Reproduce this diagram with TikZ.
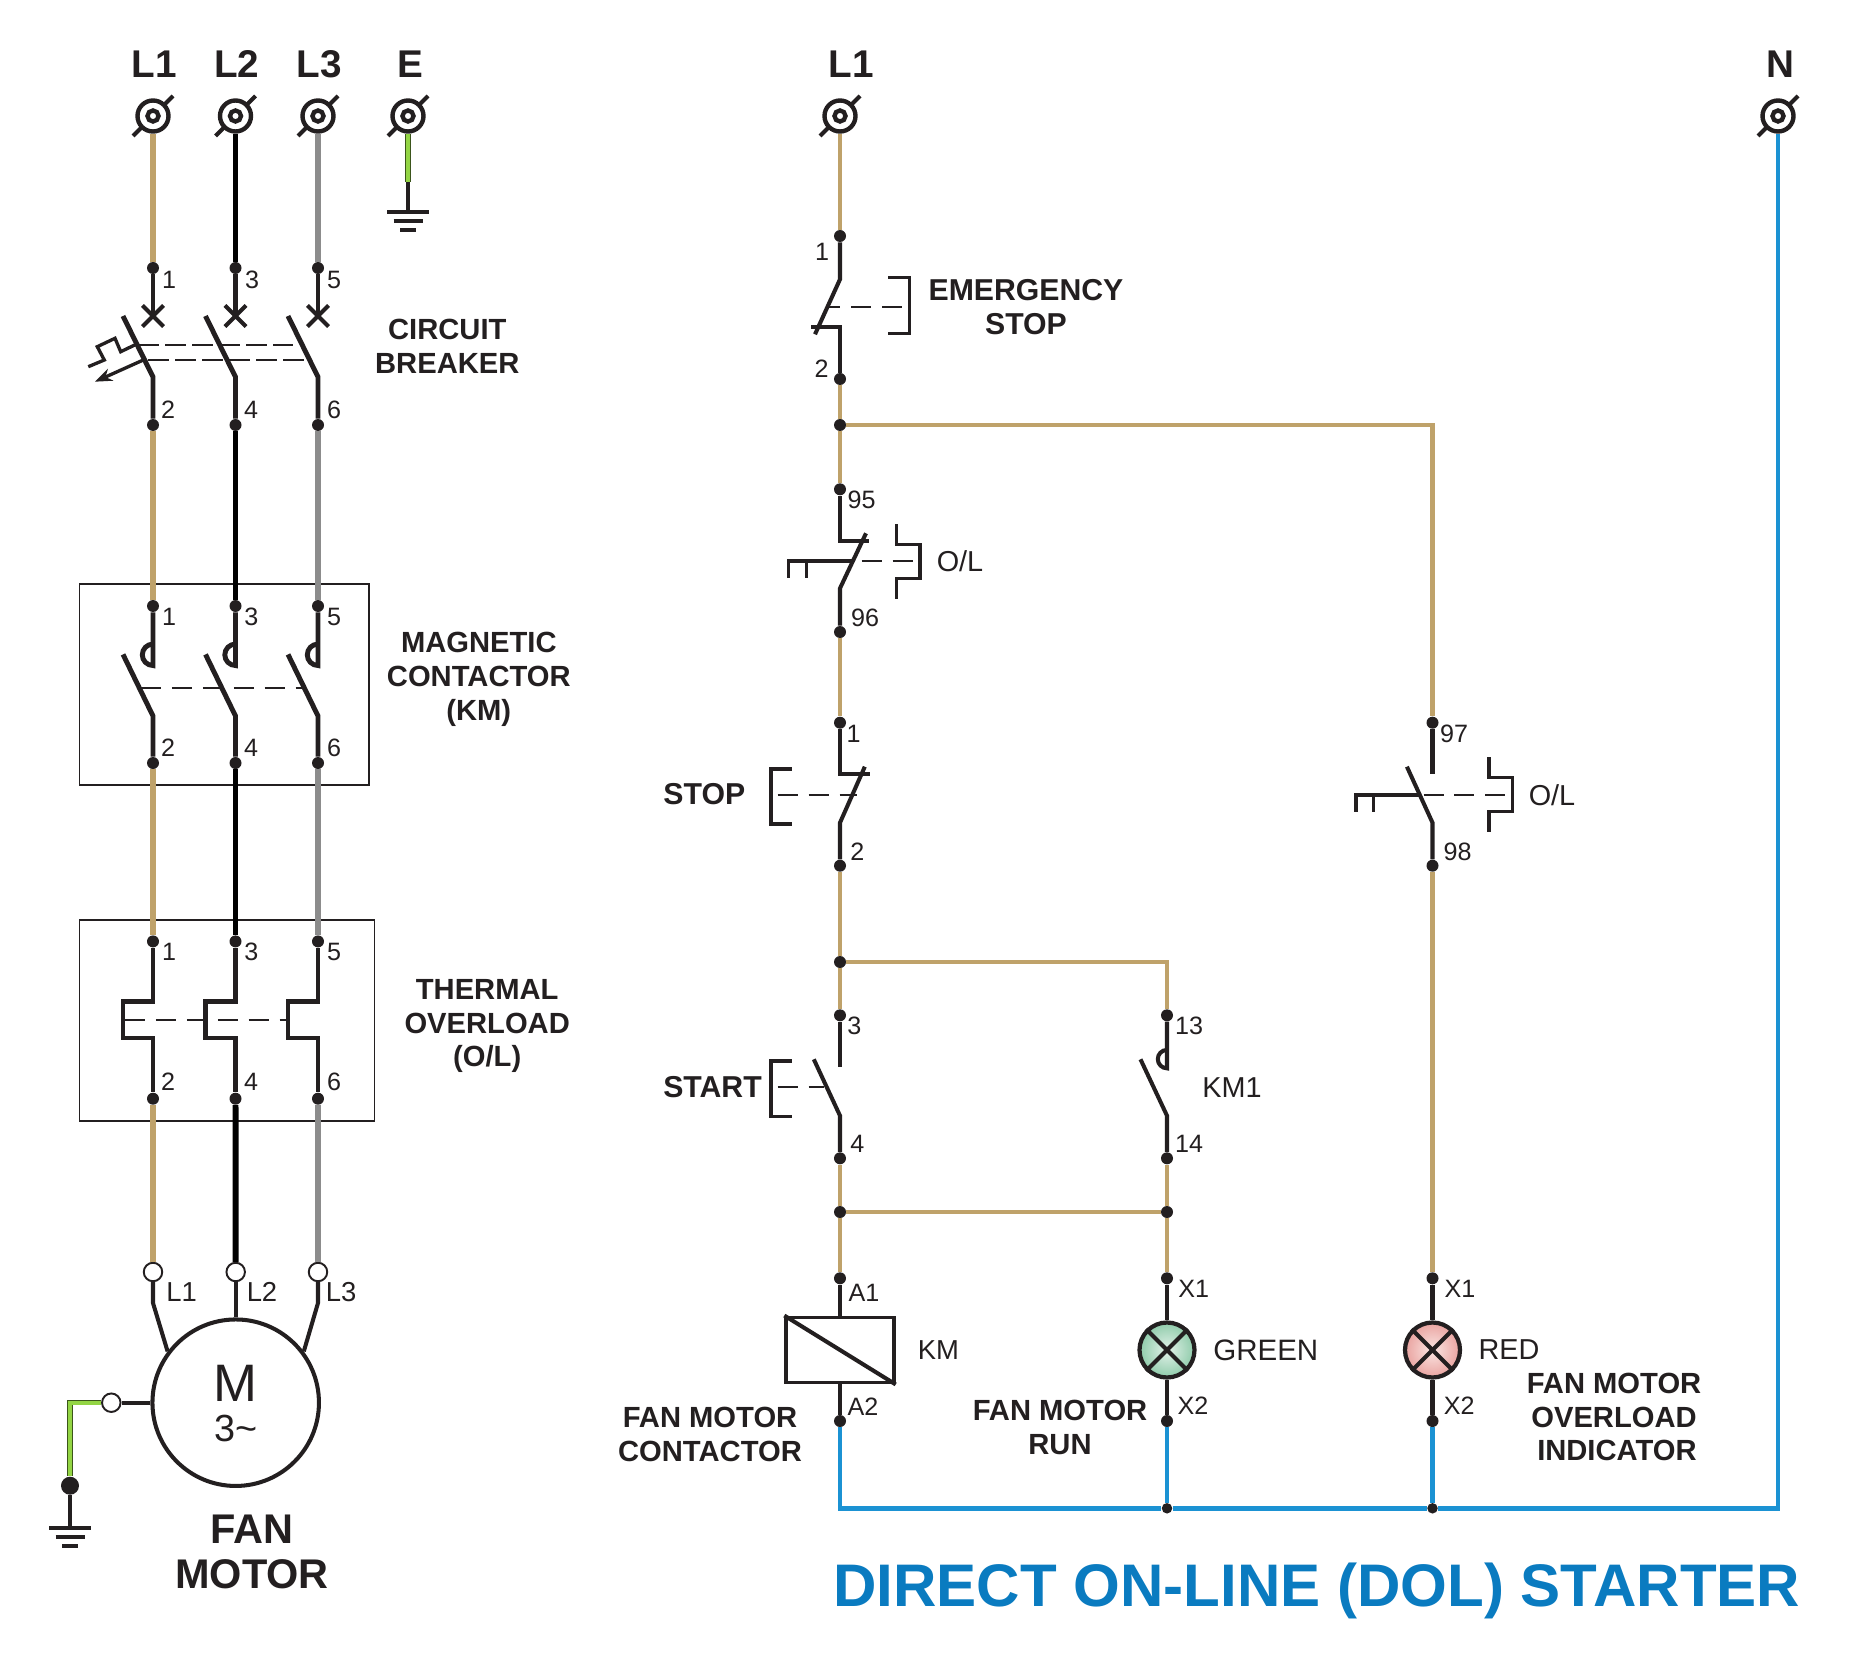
\documentclass[tikz,border=0pt]{standalone}
\usepackage{fontspec}
\setmainfont{Liberation Sans}
\usepackage{xcolor}
\usetikzlibrary{shapes,arrows.meta,positioning,calc}

\definecolor{ink}{HTML}{231F20}
\definecolor{tanline}{HTML}{BFA26A}
\definecolor{greyline}{HTML}{8C8C8C}
\definecolor{blueline}{HTML}{1B92D3}
\definecolor{earthgreen}{HTML}{93D544}
\definecolor{titleblue}{HTML}{0A7BC0}
\definecolor{lampgreenin}{HTML}{E3F2EA}
\definecolor{lampgreenout}{HTML}{8FCBAA}
\definecolor{lampredin}{HTML}{FBE6E3}
\definecolor{lampredout}{HTML}{E9A3A0}

\begin{document}
\begin{tikzpicture}[
      x=0.2mm,y=-0.2mm,
      dot/.style={circle,fill=ink,inner sep=0pt,minimum size=2.4mm},
      opendot/.style={circle,draw=ink,fill=white,line width=1.1pt,inner sep=0pt,minimum size=3.7mm},
      xmark/.style={cross out,draw=ink,line width=2.3pt,inner sep=0pt,minimum size=3.4mm},
      ringouter/.style={circle,draw=ink,fill=white,line width=2.5pt,inner sep=0pt,minimum size=6.2mm},
      ringinner/.style={circle,draw=ink,fill=white,line width=2.5pt,inner sep=0pt,minimum size=2.2mm},
      tanwire/.style={draw=tanline,line width=3.4pt},
      blackwire/.style={draw=black,line width=3.4pt},
      greywire/.style={draw=greyline,line width=3.4pt},
      tanctl/.style={draw=tanline,line width=2.6pt},
      bluectl/.style={draw=blueline,line width=2.6pt},
      greenwire/.style={draw=black!60!earthgreen,double=earthgreen,line width=0.4pt,double distance=2.2pt},
      pole/.style={draw=ink,line width=2.8pt},
      ctl/.style={draw=ink,line width=2.3pt},
      link/.style={draw=ink,line width=1.1pt,dash pattern=on 11.4pt off 6.2pt},
      cblink/.style={draw=ink,line width=1.1pt,dash pattern=on 11.8pt off 3.6pt},
      thin/.style={draw=ink,line width=2pt},
      unitbox/.style={rectangle,draw=ink,line width=1pt,inner sep=0pt},
      coilbox/.style={rectangle,draw=ink,line width=2.2pt,inner sep=0pt,minimum width=21.5mm,minimum height=13mm},
      lamp/.style={circle,draw=ink,line width=2.4pt,inner sep=0pt,minimum size=11mm},
      motorbody/.style={circle,draw=ink,line width=2.3pt,inner sep=0pt,minimum size=33.3mm},
      numtext/.style={font=\fontsize{14.3pt}{16pt}\selectfont,text=ink,inner sep=0pt},
      devtext/.style={font=\fontsize{16.4pt}{19pt}\selectfont,text=ink,inner sep=0pt},
      motortext/.style={font=\fontsize{15.6pt}{18pt}\selectfont,text=ink,inner sep=0pt},
      captext/.style={font=\bfseries\fontsize{16.6pt}{19.3pt}\selectfont,text=ink,align=center,inner sep=0pt},
      capbig/.style={font=\bfseries\fontsize{17.2pt}{19.6pt}\selectfont,text=ink,align=center,inner sep=0pt},
      headtext/.style={font=\bfseries\fontsize{22pt}{26pt}\selectfont,text=ink,inner sep=0pt},
      terminal/.pic={
        \draw[pole,line width=2.4pt] (-20,20) -- (20,-20);
        \node[ringouter] (-c) at (0,0) {};
        \node[ringinner] (-i) at (0,0) {};
      },
      earth/.pic={
        \coordinate (-c) at (0,0);
        \draw[ctl] (-21,0) -- (21,0);
        \draw[ctl] (-14.5,9) -- (14.5,9);
        \draw[ctl] (-8,18) -- (8,18);
      }
    ]
    \useasboundingbox (0,0) rectangle (1861,1671);

    % Boxes round the three pole units
    \node[unitbox,minimum width=57.9mm,minimum height=40.2mm] (kmbox) at (224.3,684.5) {};
    \node[unitbox,minimum width=59mm,minimum height=40.1mm] (olbox) at (227,1020.5) {};

    % Supply terminals
    \pic (tA) at (153,116) {terminal};
    \pic (tB) at (235.5,116) {terminal};
    \pic (tC) at (318,116) {terminal};
    \pic (tE) at (408,116) {terminal};
    \pic (tL) at (840,116) {terminal};
    \pic (tN) at (1778,116) {terminal};

    \node[headtext] (hA) at (154,64) {L1};
    \node[headtext] (hB) at (236.7,64) {L2};
    \node[headtext] (hC) at (319,64) {L3};
    \node[headtext] (hE) at (410,64) {E};
    \node[headtext] (hL) at (851,64) {L1};
    \node[headtext] (hN) at (1780.5,64) {N};

    % Earth of the supply
    \coordinate (gE) at (408,182);
    \pic (earthE) at (408,212) {earth};
    \draw[greenwire] (tE-c) -- (gE);
    \draw[ctl] (gE) -- (earthE-c);

    % Circuit breaker
    \node[dot] (cbA1) at (153,268) {};
    \node[dot] (cbB1) at (235.5,268) {};
    \node[dot] (cbC1) at (318,268) {};
    \node[dot] (cbA2) at (153,425) {};
    \node[dot] (cbB2) at (235.5,425) {};
    \node[dot] (cbC2) at (318,425) {};
    \node[xmark] (cbAx) at (153,316) {};
    \node[xmark] (cbBx) at (235.5,316) {};
    \node[xmark] (cbCx) at (318,316) {};
    \draw[pole] (cbA1) -- (cbAx.center);
    \draw[pole] (cbB1) -- (cbBx.center);
    \draw[pole] (cbC1) -- (cbCx.center);
    \draw[pole] (cbA2) -- ++(0,-48) -- ++(-30,-61);
    \draw[pole] (cbB2) -- ++(0,-48) -- ++(-30,-61);
    \draw[pole] (cbC2) -- ++(0,-48) -- ++(-30,-61);
    \draw[cblink] ($(cbA2)+(-15,-80.3)$) -- ++(155,0);
    \draw[cblink] ($(cbA2)+(-5,-65)$) -- ++(159,0);
    \draw[thin,line width=1.9pt] ($(cbA2)+(-64.7,-58.3)$) -- ++(16,-6.7) -- ++(-7,-13.3) -- ++(17.7,-8.4) -- ++(5.7,13.4) -- ++(17.6,-8.4);
    \draw[thin,line width=1.9pt,-{Stealth[length=3.4mm,width=2.6mm]}] ($(cbA2)+(-9.7,-65)$) -- ++(-48.3,21.7);

    \node[numtext] (nA1) at (169,280) {1};
    \node[numtext] (nB1) at (252,280) {3};
    \node[numtext] (nC1) at (334,280) {5};
    \node[numtext] (nA2) at (168,410) {2};
    \node[numtext] (nB2) at (251,410) {4};
    \node[numtext] (nC2) at (334,410) {6};
    \node[captext] (cbcap) at (447.3,346) {CIRCUIT\\BREAKER};

    % Magnetic contactor
    \node[dot] (kmA1) at (153,606) {};
    \node[dot] (kmB1) at (235.5,606) {};
    \node[dot] (kmC1) at (318,606) {};
    \node[dot] (kmA2) at (153,763) {};
    \node[dot] (kmB2) at (235.5,763) {};
    \node[dot] (kmC2) at (318,763) {};
    \draw[pole] (kmA1) -- ++(0,59.5) arc[start angle=90,end angle=270,radius=10.7];
    \draw[pole] (kmB1) -- ++(0,59.5) arc[start angle=90,end angle=270,radius=10.7];
    \draw[pole] (kmC1) -- ++(0,59.5) arc[start angle=90,end angle=270,radius=10.7];
    \draw[pole] (kmA2) -- ++(0,-47) -- ++(-30,-61.6);
    \draw[pole] (kmB2) -- ++(0,-47) -- ++(-30,-61.6);
    \draw[pole] (kmC2) -- ++(0,-47) -- ++(-30,-61.6);
    \draw[link] ($(kmA2)+(-12,-75.4)$) -- ++(163,0);

    \node[numtext] (mA1) at (169,617) {1};
    \node[numtext] (mB1) at (251.4,617) {3};
    \node[numtext] (mC1) at (334,617) {5};
    \node[numtext] (mA2) at (168,748) {2};
    \node[numtext] (mB2) at (251,748) {4};
    \node[numtext] (mC2) at (334,748) {6};
    \node[captext] (kmcap) at (478.8,679.5) {MAGNETIC\\CONTACTOR\\(KM)};

    % Thermal overload
    \node[dot] (olA1) at (153,941.4) {};
    \node[dot] (olB1) at (235.5,941.4) {};
    \node[dot] (olC1) at (318,941.4) {};
    \node[dot] (olA2) at (153,1098.7) {};
    \node[dot] (olB2) at (235.5,1098.7) {};
    \node[dot] (olC2) at (318,1098.7) {};
    \draw[pole] (olA1) -- ++(0,60.3) -- ++(-30,0) -- ++(0,36.3) -- ++(30,0) -- (olA2);
    \draw[pole] (olB1) -- ++(0,60.3) -- ++(-30,0) -- ++(0,36.3) -- ++(30,0) -- (olB2);
    \draw[pole] (olC1) -- ++(0,60.3) -- ++(-30,0) -- ++(0,36.3) -- ++(30,0) -- (olC2);
    \draw[link] ($(olA1)+(-28,78.6)$) -- ++(162,0);

    \node[numtext] (oA1) at (169,952) {1};
    \node[numtext] (oB1) at (251.4,952) {3};
    \node[numtext] (oC1) at (334,952) {5};
    \node[numtext] (oA2) at (168,1082) {2};
    \node[numtext] (oB2) at (251,1082) {4};
    \node[numtext] (oC2) at (334,1082) {6};
    \node[captext] (olcap) at (487.2,1026) {THERMAL\\OVERLOAD\\(O/L)};

    % Fan motor
    \node[opendot] (mA) at (153,1272) {};
    \node[opendot] (mB) at (235.7,1272) {};
    \node[opendot] (mC) at (318,1272) {};
    \node[opendot] (mE) at (111.3,1402.7) {};
    \node[motorbody] (mot) at (235.7,1402.7) {};
    \draw[ctl] (mA) -- ++(0,31) -- (mot.143);
    \draw[ctl] (mB) -- (mot);
    \draw[ctl] (mC) -- ++(0,31) -- (mot.37);
    \draw[ctl] (mE) -- (mot);
    \node[dot,minimum size=3.6mm] (gM) at (70,1485.7) {};
    \pic (earthM) at (70,1528) {earth};
    \draw[greenwire] (mE) -| (gM);
    \draw[ctl] (gM) -- (earthM-c);

    \node[font=\fontsize{30pt}{34pt}\selectfont,text=ink,inner sep=0pt] (mletter) at (235,1383) {M};
    \node[font=\fontsize{21.5pt}{25pt}\selectfont,text=ink,inner sep=0pt] (mphase) at (235.7,1428) {3\textasciitilde};
    \node[motortext] (lA) at (181.7,1292) {L1};
    \node[motortext] (lB) at (262,1292) {L2};
    \node[motortext] (lC) at (341,1292) {L3};
    \node[captext,font=\bfseries\fontsize{23.6pt}{26pt}\selectfont] (fancap) at (252,1552) {FAN\\MOTOR};

    % Three phase wires
    \draw[tanwire] (tA-c) -- (cbA1);
    \draw[tanwire] (cbA2) -- (kmA1);
    \draw[tanwire] (kmA2) -- (olA1);
    \draw[tanwire] (olA2) -- (mA);
    \draw[blackwire] (tB-c) -- (cbB1);
    \draw[blackwire] (cbB2) -- (kmB1);
    \draw[blackwire] (kmB2) -- (olB1);
    \draw[blackwire] (olB2) -- (mB);
    \draw[greywire] (tC-c) -- (cbC1);
    \draw[greywire] (cbC2) -- (kmC1);
    \draw[greywire] (kmC2) -- (olC1);
    \draw[greywire] (olC2) -- (mC);

    % Emergency stop
    \node[dot] (es1) at (840,236) {};
    \node[dot] (es2) at (840,379) {};
    \node[dot] (jn1) at (840,425) {};
    \draw[ctl] (es1) -- ++(0,43.3) -- ++(-25,55);
    \draw[ctl] (es2) -- ++(0,-51.7) -- ++(-29.3,0);
    \draw[link,dash phase=4.5pt] ($(es1)+(-11.7,70.7)$) -- ++(75,0);
    \draw[thin] ($(es1)+(48.3,41.7)$) -- ++(21,0) -- ++(0,55.6) -- ++(-21,0);
    \node[numtext] (es1n) at (822,252) {1};
    \node[numtext] (es2n) at (821.7,368.5) {2};
    \node[capbig] (escap) at (1026,307) {EMERGENCY\\STOP};

    % Overload contact in the control line
    \node[dot] (ov1) at (840,489.3) {};
    \node[dot] (ov2) at (840,632) {};
    \draw[ctl] (ov1) -- ++(0,51.7) -- ++(29.3,0);
    \draw[ctl] (ov2) -- ++(0,-43.7) -- ++(26,-55);
    \draw[thin] ($(ov1)+(11.7,71.7)$) -- ++(-63.4,0) -- ++(0,17.3);
    \draw[thin] ($(ov1)+(-33.3,71.7)$) -- ++(0,17.3);
    \draw[link] ($(ov1)+(21.7,71.7)$) -- ++(51.6,0);
    \draw[thin] ($(ov1)+(56.7,34.7)$) -- ++(0,20.3) -- ++(23.3,0) -- ++(0,34) -- ++(-23.3,0) -- ++(0,20.7);
    \node[numtext] (ov1n) at (861.7,500) {95};
    \node[numtext] (ov2n) at (865,618) {96};
    \node[devtext] (ovtag) at (960,561) {O/L};

    % Stop button
    \node[dot] (sp1) at (840,722.7) {};
    \node[dot] (sp2) at (840,865.7) {};
    \node[dot] (jn2) at (840,962) {};
    \draw[ctl] (sp1) -- ++(0,51.3) -- ++(29.7,0);
    \draw[ctl] (sp2) -- ++(0,-43) -- ++(24.8,-56);
    \draw[link] ($(sp1)+(-62.3,72.3)$) -- ++(79.6,0);
    \draw[thin] ($(sp1)+(-48.2,46.3)$) -- ++(-20.8,0) -- ++(0,55) -- ++(20.8,0);
    \node[numtext] (sp1n) at (853.6,734) {1};
    \node[numtext] (sp2n) at (857.3,852) {2};
    \node[capbig] (spcap) at (704.3,794.3) {STOP};

    % Start button and its hold-in contact
    \node[dot] (st1) at (840,1015.3) {};
    \node[dot] (st2) at (840,1158.3) {};
    \node[dot] (jn3) at (840,1212) {};
    \draw[ctl] (st1) -- ++(0,51.4);
    \draw[ctl] (st2) -- ++(0,-42.6) -- ++(-26.2,-56.4);
    \draw[link] ($(st1)+(-62.3,72)$) -- ++(46.3,0);
    \draw[thin] ($(st1)+(-48.2,45.7)$) -- ++(-20.8,0) -- ++(0,55.7) -- ++(20.8,0);
    \node[numtext] (st1n) at (854.4,1026) {3};
    \node[numtext] (st2n) at (857.3,1144) {4};
    \node[capbig] (stcap) at (712.5,1086.7) {START};

    \node[dot] (ho1) at (1167,1015.3) {};
    \node[dot] (ho2) at (1167,1158.3) {};
    \node[dot] (jn4) at (1167,1212) {};
    \draw[ctl] (ho1) -- ++(0,53) arc[start angle=90,end angle=270,radius=9.2];
    \draw[ctl] (ho2) -- ++(0,-42.6) -- ++(-26.5,-56.4);
    \node[numtext] (ho1n) at (1189,1026) {13};
    \node[numtext] (ho2n) at (1189,1144) {14};
    \node[devtext] (hotag) at (1232,1087.3) {KM1};

    % Overload contact in the indicator branch
    \node[dot] (ovr1) at (1432.5,722.7) {};
    \node[dot] (ovr2) at (1432.5,865.7) {};
    \draw[ctl] (ovr1) -- ++(0,51.3);
    \draw[ctl] (ovr2) -- ++(0,-43) -- ++(-25.6,-56);
    \draw[thin] ($(ovr1)+(-13.2,72.3)$) -- ++(-63.3,0) -- ++(0,16.7);
    \draw[thin] ($(ovr1)+(-59,72.3)$) -- ++(0,16.7);
    \draw[link] ($(ovr1)+(-9,72.3)$) -- ++(82.4,0);
    \draw[thin] ($(ovr1)+(56.5,34.6)$) -- ++(0,20.4) -- ++(23.3,0) -- ++(0,34) -- ++(-23.3,0) -- ++(0,20.6);
    \node[numtext] (ovr1n) at (1454,733.5) {97};
    \node[numtext] (ovr2n) at (1457.7,852) {98};
    \node[devtext] (ovrtag) at (1552,795) {O/L};

    % Contactor coil and the two lamps
    \node[dot] (coil1) at (840,1278.3) {};
    \node[dot] (coil2) at (840,1421) {};
    \node[coilbox] (coil) at (840,1350) {};
    \draw[ctl] (coil.north west) -- (coil.south east);
    \draw[ctl] (coil1) -- (coil);
    \draw[ctl] (coil2) -- (coil);
    \node[numtext] (coil1n) at (864,1293.3) {A1};
    \node[numtext] (coil2n) at (863,1406.7) {A2};
    \node[motortext] (coiltag) at (938.4,1350) {KM};
    \node[captext] (coilcap) at (710,1434) {FAN MOTOR\\CONTACTOR};

    \node[dot] (gr1) at (1167,1278.3) {};
    \node[dot] (gr2) at (1167,1421) {};
    \node[lamp,inner color=lampgreenin,outer color=lampgreenout] (grlamp) at (1167,1350) {};
    \draw[ctl] (grlamp.north west) -- (grlamp.south east);
    \draw[ctl] (grlamp.north east) -- (grlamp.south west);
    \draw[ctl] (gr1) -- (grlamp);
    \draw[ctl] (gr2) -- (grlamp);
    \node[numtext] (gr1n) at (1193.7,1289.3) {X1};
    \node[numtext] (gr2n) at (1193,1406) {X2};
    \node[devtext,font=\fontsize{16.8pt}{19pt}\selectfont] (grtag) at (1265.8,1350) {GREEN};
    \node[captext] (grcap) at (1060,1427) {FAN MOTOR\\RUN};

    \node[dot] (rd1) at (1432.5,1278.3) {};
    \node[dot] (rd2) at (1432.5,1421) {};
    \node[lamp,inner color=lampredin,outer color=lampredout] (rdlamp) at (1432.5,1350) {};
    \draw[ctl] (rdlamp.north west) -- (rdlamp.south east);
    \draw[ctl] (rdlamp.north east) -- (rdlamp.south west);
    \draw[ctl] (rd1) -- (rdlamp);
    \draw[ctl] (rd2) -- (rdlamp);
    \node[numtext] (rd1n) at (1460,1289.3) {X1};
    \node[numtext] (rd2n) at (1459.3,1406) {X2};
    \node[devtext] (rdtag) at (1509,1350) {RED};
    \node[captext] (rdcap) at (1614,1417) {FAN MOTOR\\OVERLOAD\\\hspace*{0.2em}INDICATOR};

    % Control wiring
    \node[dot,minimum size=2.1mm] (bus1) at (1167,1508.3) {};
    \node[dot,minimum size=2.1mm] (bus2) at (1432.5,1508.3) {};
    \draw[tanctl] (tL-c) -- (es1);
    \draw[tanctl] (es2) -- (jn1);
    \draw[tanctl] (jn1) -- (ov1);
    \draw[tanctl] (ov2) -- (sp1);
    \draw[tanctl] (sp2) -- (jn2);
    \draw[tanctl] (jn2) -- (st1);
    \draw[tanctl] (st2) -- (jn3);
    \draw[tanctl] (jn3) -- (coil1);
    \draw[tanctl] (jn1) -| (ovr1);
    \draw[tanctl] (ovr2) -- (rd1);
    \draw[tanctl] (jn2) -| (ho1);
    \draw[tanctl] (ho2) -- (jn4);
    \draw[tanctl] (jn3) -- (jn4);
    \draw[tanctl] (jn4) -- (gr1);
    \draw[bluectl] (coil2) |- (bus1);
    \draw[bluectl] (gr2) -- (bus1);
    \draw[bluectl] (rd2) -- (bus2);
    \draw[bluectl] (bus1) -- (bus2);
    \draw[bluectl] (bus2) -| (tN-c);

    \node[font=\bfseries\fontsize{34.2pt}{40pt}\selectfont,text=titleblue,inner sep=0pt] (maintitle) at (1316.7,1590.5) {DIRECT ON-LINE (DOL) STARTER};
  \end{tikzpicture}
\end{document}
